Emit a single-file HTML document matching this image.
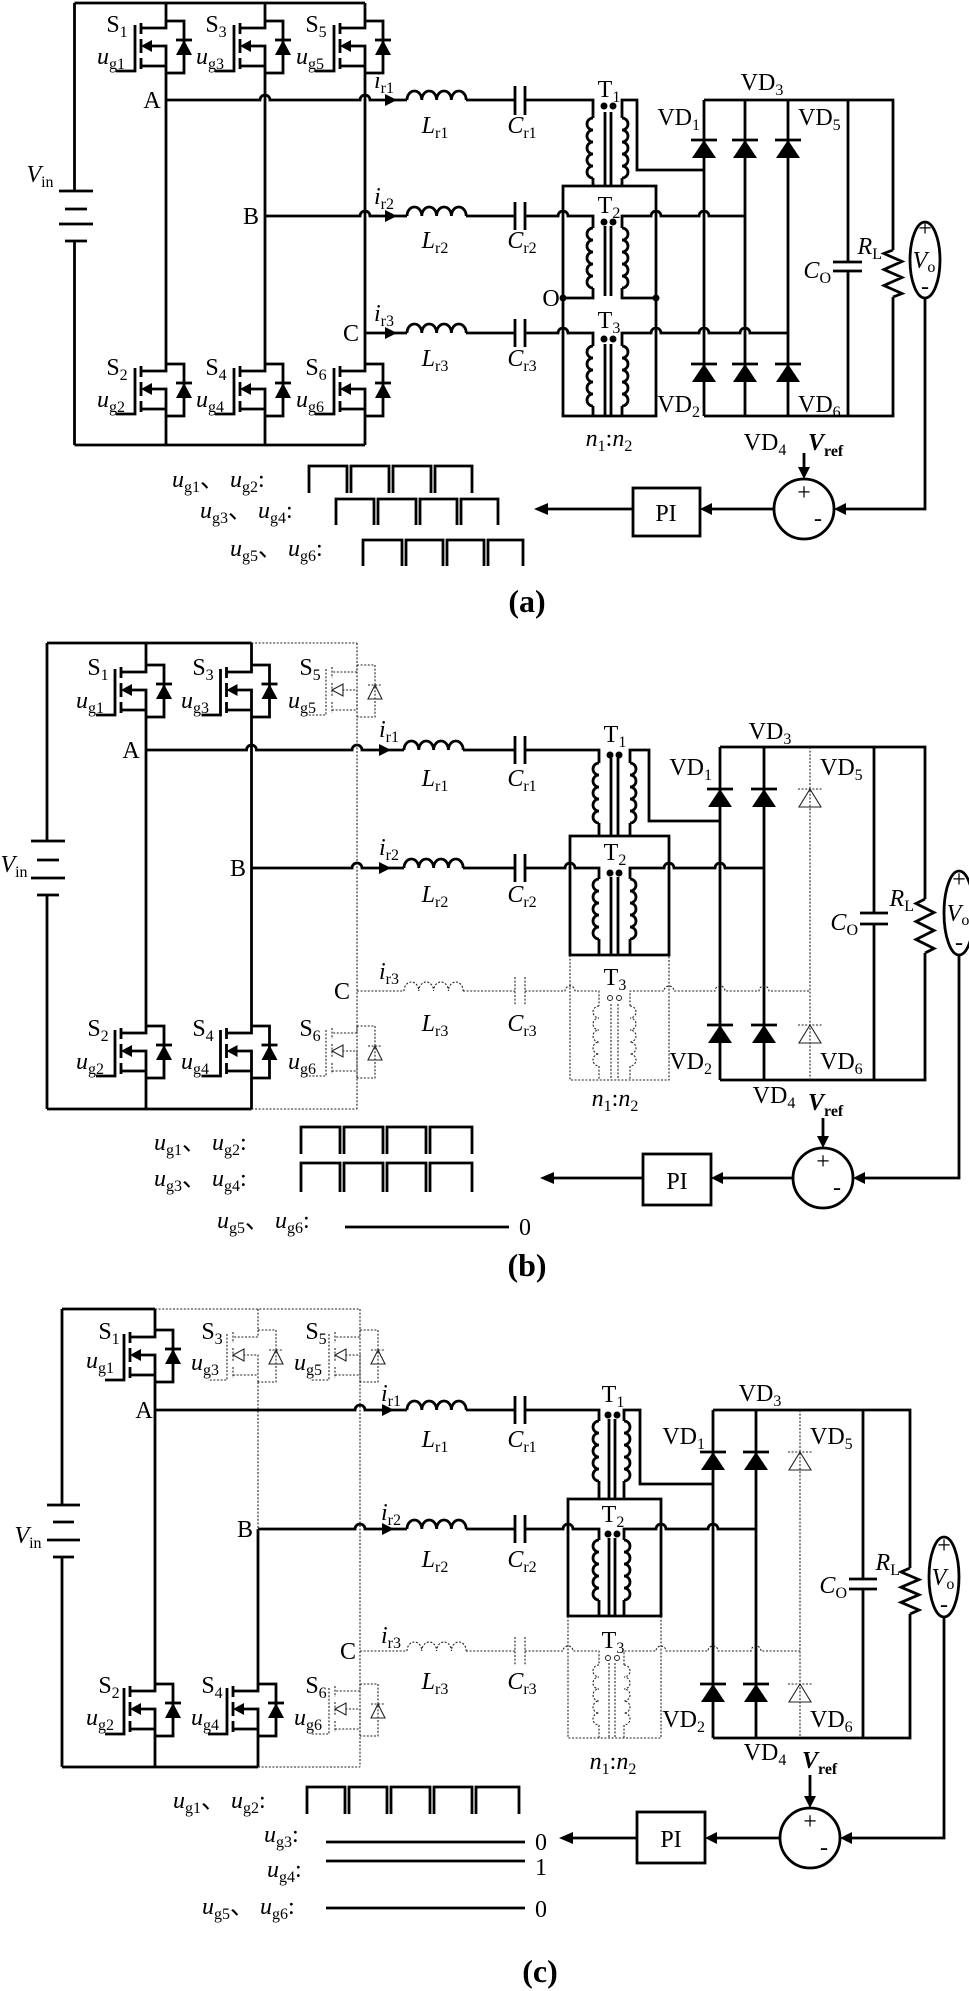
<!DOCTYPE html>
<html><head><meta charset="utf-8"><style>
html,body{margin:0;padding:0;background:#fff}
svg{display:block}
text{font-family:"Liberation Serif",serif;font-size:24px;fill:#000}
.w{stroke:#000;stroke-width:2.8;fill:none}
.d{stroke:#222;stroke-width:1.1;stroke-dasharray:2 1.6;fill:none}
.i{font-style:italic}
.sb{font-size:16px;font-style:normal}
.pl{font-weight:bold;font-size:32px}
</style></head><body>
<svg width="969" height="1991" viewBox="0 0 969 1991" xmlns="http://www.w3.org/2000/svg">
<defs>
<g id="swS">
<path class="w" d="M0,0 V7 H-25 M0,0 H18 V52 H0 M0,52 V25 H-17 M-25,45 H0 M-25,2 V13 M-25,18 V32 M-25,37 V48 M-31,4 V50 H-50"/>
<polygon points="-25,25 -14,19 -14,31" fill="#000"/>
<polygon points="10,34 26,34 18,19" fill="#000"/>
<path class="w" d="M10,19 H26"/>
</g>
<g id="swD">
<path class="d" d="M0,0 V7 H-25 M0,0 H18 V52 H0 M0,52 V25 H-15 M-25,45 H0 M-25,2 V13 M-25,18 V32 M-25,37 V48 M-31,4 V50 H-50"/>
<polygon points="-25,25 -14,19 -14,31" fill="none" stroke="#222" stroke-width="1.1"/>
<polygon points="11,34 25,34 18,20" fill="none" stroke="#222" stroke-width="1.1"/>
<path class="d" d="M11,20 H25"/>
</g>
<g id="dS"><polygon points="-12,9 12,9 0,-9" fill="#000"/><path class="w" d="M-13,-9 H13"/></g>
<g id="dD"><polygon points="-11,9 11,9 0,-9" fill="none" stroke="#222" stroke-width="1.1"/><path class="d" d="M-12,-9 H12"/></g>
<path id="ind" class="w" d="M0,0 a7.4,9 0 0 1 14.8,0 a7.4,9 0 0 1 14.8,0 a7.4,9 0 0 1 14.8,0 a7.4,9 0 0 1 14.8,0"/>
<path id="indD" class="d" d="M0,0 a7.4,9 0 0 1 14.8,0 a7.4,9 0 0 1 14.8,0 a7.4,9 0 0 1 14.8,0 a7.4,9 0 0 1 14.8,0"/>
<path id="cL" class="w" d="M0,0 a6,6 0 0 0 0,12 a6,6 0 0 0 0,12 a6,6 0 0 0 0,12 a6,6 0 0 0 0,12 a6,6 0 0 0 0,12"/>
<path id="cR" class="w" d="M0,0 a6,6 0 0 1 0,12 a6,6 0 0 1 0,12 a6,6 0 0 1 0,12 a6,6 0 0 1 0,12 a6,6 0 0 1 0,12"/>
<path id="cLD" class="d" d="M0,0 a6,6 0 0 0 0,12 a6,6 0 0 0 0,12 a6,6 0 0 0 0,12 a6,6 0 0 0 0,12 a6,6 0 0 0 0,12"/>
<path id="cRD" class="d" d="M0,0 a6,6 0 0 1 0,12 a6,6 0 0 1 0,12 a6,6 0 0 1 0,12 a6,6 0 0 1 0,12 a6,6 0 0 1 0,12"/>
</defs>

<!-- ================= PANEL (a) ================= -->
<path class="w" d="M74.5,3 V191 M74.5,241 V445 M59,191 H93 M65,209 H87 M59,224 H93 M65,241 H87 M74.5,3 H365 M74.5,445 H365
M166,3 V21 M166,73 V364 M166,416 V445 M265,3 V21 M265,73 V364 M265,416 V445 M365,3 V21 M365,73 V364 M365,416 V445"/>
<use href="#swS" x="166" y="21"/><use href="#swS" x="265" y="21"/><use href="#swS" x="365" y="21"/>
<use href="#swS" x="166" y="364"/><use href="#swS" x="265" y="364"/><use href="#swS" x="365" y="364"/>
<text x="117" y="32" text-anchor="middle">S<tspan class="sb" dy="5">1</tspan></text>
<text x="216" y="32" text-anchor="middle">S<tspan class="sb" dy="5">3</tspan></text>
<text x="316" y="32" text-anchor="middle">S<tspan class="sb" dy="5">5</tspan></text>
<text x="111" y="64" text-anchor="middle"><tspan class="i">u</tspan><tspan class="sb" dy="5">g1</tspan></text>
<text x="210" y="64" text-anchor="middle"><tspan class="i">u</tspan><tspan class="sb" dy="5">g3</tspan></text>
<text x="310" y="64" text-anchor="middle"><tspan class="i">u</tspan><tspan class="sb" dy="5">g5</tspan></text>
<text x="117" y="375" text-anchor="middle">S<tspan class="sb" dy="5">2</tspan></text>
<text x="216" y="375" text-anchor="middle">S<tspan class="sb" dy="5">4</tspan></text>
<text x="316" y="375" text-anchor="middle">S<tspan class="sb" dy="5">6</tspan></text>
<text x="111" y="407" text-anchor="middle"><tspan class="i">u</tspan><tspan class="sb" dy="5">g2</tspan></text>
<text x="210" y="407" text-anchor="middle"><tspan class="i">u</tspan><tspan class="sb" dy="5">g4</tspan></text>
<text x="310" y="407" text-anchor="middle"><tspan class="i">u</tspan><tspan class="sb" dy="5">g6</tspan></text>
<text x="40" y="182" text-anchor="middle"><tspan class="i">V</tspan><tspan class="sb" dy="5">in</tspan></text>
<text x="152" y="108" text-anchor="middle">A</text>
<text x="251" y="224" text-anchor="middle">B</text>
<text x="351" y="341" text-anchor="middle">C</text>
<path class="w" d="M166,100 H260 a5,5 0 0 1 10,0 H360 a5,5 0 0 1 10,0 H407 M466,100 H515 M515,86 V115 M525,86 V115 M525,100 H593 V118 M593,178 V186
M622,118 V100 H637 V170 H704 M622,178 V186 M605,112 V186 M611,112 V186
M265,216 H360 a5,5 0 0 1 10,0 H407 M466,216 H515 M515,202 V230 M525,202 V230 M525,216 H558 a5,5 0 0 1 10,0 H593 V228 M593,288 V298 H563
M622,228 V216 H651 a5,5 0 0 1 10,0 H699 a5,5 0 0 1 10,0 H745 M622,288 V298 H656 M605,226 V296 M611,226 V296
M365,333 H407 M466,333 H515 M515,319 V347 M525,319 V347 M525,333 H558 a5,5 0 0 1 10,0 H593 V346 M593,406 V416
M622,346 V333 H651 a5,5 0 0 1 10,0 H699 a5,5 0 0 1 10,0 H740 a5,5 0 0 1 10,0 H788 M622,406 V416 M605,344 V416 M611,344 V416
M563,186 H656 V416 H563 Z
M704,100 V416 M745,100 V416 M788,100 V416 M704,100 H893 V250 M893,297 V416 H704
M893,250 l-9,3.5 18,8 -18,8 18,8 -18,8 18,8 -9,3.5
M848,100 V262 M833,262 H862 M833,271 H862 M848,271 V416"/>
<polygon points="385,94 397,100 385,106"/><polygon points="385,210 397,216 385,222"/><polygon points="385,327 397,333 385,339"/>
<use href="#ind" x="407" y="100"/><use href="#ind" x="407" y="216"/><use href="#ind" x="407" y="333"/>
<use href="#cL" x="593" y="118"/><use href="#cR" x="622" y="118"/>
<use href="#cL" x="593" y="228"/><use href="#cR" x="622" y="228"/>
<use href="#cL" x="593" y="346"/><use href="#cR" x="622" y="346"/>
<circle cx="604" cy="106" r="3.5"/><circle cx="613" cy="106" r="3.5"/>
<circle cx="604" cy="222" r="3.5"/><circle cx="613" cy="222" r="3.5"/>
<circle cx="604" cy="339" r="3.5"/><circle cx="613" cy="339" r="3.5"/>
<circle cx="563" cy="298" r="3.5"/><circle cx="656" cy="298" r="3.5"/>
<use href="#dS" x="704" y="149"/><use href="#dS" x="745" y="149"/><use href="#dS" x="788" y="149"/>
<use href="#dS" x="704" y="373"/><use href="#dS" x="745" y="373"/><use href="#dS" x="788" y="373"/>
<text x="384" y="88" text-anchor="middle"><tspan class="i">i</tspan><tspan class="sb" dy="5">r1</tspan></text>
<text x="384" y="204" text-anchor="middle"><tspan class="i">i</tspan><tspan class="sb" dy="5">r2</tspan></text>
<text x="384" y="321" text-anchor="middle"><tspan class="i">i</tspan><tspan class="sb" dy="5">r3</tspan></text>
<text x="435" y="133" text-anchor="middle"><tspan class="i">L</tspan><tspan class="sb" dy="5">r1</tspan></text>
<text x="435" y="248" text-anchor="middle"><tspan class="i">L</tspan><tspan class="sb" dy="5">r2</tspan></text>
<text x="435" y="366" text-anchor="middle"><tspan class="i">L</tspan><tspan class="sb" dy="5">r3</tspan></text>
<text x="522" y="133" text-anchor="middle"><tspan class="i">C</tspan><tspan class="sb" dy="5">r1</tspan></text>
<text x="522" y="248" text-anchor="middle"><tspan class="i">C</tspan><tspan class="sb" dy="5">r2</tspan></text>
<text x="522" y="366" text-anchor="middle"><tspan class="i">C</tspan><tspan class="sb" dy="5">r3</tspan></text>
<text x="609" y="97" text-anchor="middle">T<tspan class="sb" dy="5">1</tspan></text>
<text x="609" y="213" text-anchor="middle">T<tspan class="sb" dy="5">2</tspan></text>
<text x="609" y="328" text-anchor="middle">T<tspan class="sb" dy="5">3</tspan></text>
<text x="551" y="306" text-anchor="middle">O</text>
<text x="609" y="446" text-anchor="middle"><tspan class="i">n</tspan><tspan class="sb" dy="5">1</tspan><tspan dy="-5">:</tspan><tspan class="i">n</tspan><tspan class="sb" dy="5">2</tspan></text>
<text x="762" y="90" text-anchor="middle">VD<tspan class="sb" dy="5">3</tspan></text>
<text x="700" y="125" text-anchor="end">VD<tspan class="sb" dy="5">1</tspan></text>
<text x="798" y="125">VD<tspan class="sb" dy="5">5</tspan></text>
<text x="700" y="412" text-anchor="end">VD<tspan class="sb" dy="5">2</tspan></text>
<text x="798" y="412">VD<tspan class="sb" dy="5">6</tspan></text>
<text x="765" y="450" text-anchor="middle">VD<tspan class="sb" dy="5">4</tspan></text>
<text x="808" y="450" font-weight="bold"><tspan class="i">V</tspan><tspan class="sb" dy="6" font-weight="bold">ref</tspan></text>
<text x="831" y="278" text-anchor="end"><tspan class="i">C</tspan><tspan class="sb" dy="5">O</tspan></text>
<text x="882" y="254" text-anchor="end"><tspan class="i">R</tspan><tspan class="sb" dy="5">L</tspan></text>
<ellipse class="w" cx="925" cy="260" rx="15" ry="38"/>
<text x="925" y="236" text-anchor="middle" font-size="15">+</text>
<text x="924" y="268" text-anchor="middle"><tspan class="i">V</tspan><tspan class="sb" dy="4">o</tspan></text>
<text x="925" y="294" text-anchor="middle" font-size="15">-</text>
<path class="w" d="M925,298 V509 H846 M804,453 V467 M774,509 H712 M633,509 H548"/>
<polygon points="846,503 834,509 846,515"/><polygon points="798,467 804,479 810,467"/>
<polygon points="712,503 700,509 712,515"/><polygon points="548,503 534,509 548,515"/>
<circle class="w" cx="804" cy="509" r="30"/>
<text x="804" y="500" text-anchor="middle" font-size="15">+</text>
<text x="818" y="526" text-anchor="middle" font-size="16">-</text>
<rect class="w" x="633" y="488" width="67" height="48"/>
<text x="666" y="521" text-anchor="middle" font-size="26">PI</text>
<path class="w" d="M309,493 V466 H347 V493 M351,493 V466 H389 V493 M393,493 V466 H431 V493 M435,493 V466 H472 V493
M336,525 V499 H374 V525 M378,525 V499 H416 V525 M420,525 V499 H457 V525 M461,525 V499 H498 V525
M363,566 V540 H402 V566 M406,566 V540 H443 V566 M447,566 V540 H484 V566 M488,566 V540 H523 V566"/>
<text x="172" y="487"><tspan class="i">u</tspan><tspan class="sb" dy="5">g1</tspan><tspan dy="-5">、 </tspan><tspan class="i">u</tspan><tspan class="sb" dy="5">g2</tspan><tspan dy="-5">:</tspan></text>
<text x="200" y="518"><tspan class="i">u</tspan><tspan class="sb" dy="5">g3</tspan><tspan dy="-5">、 </tspan><tspan class="i">u</tspan><tspan class="sb" dy="5">g4</tspan><tspan dy="-5">:</tspan></text>
<text x="230" y="556"><tspan class="i">u</tspan><tspan class="sb" dy="5">g5</tspan><tspan dy="-5">、 </tspan><tspan class="i">u</tspan><tspan class="sb" dy="5">g6</tspan><tspan dy="-5">:</tspan></text>
<text x="527" y="612" text-anchor="middle" class="pl">(a)</text>

<!-- ================= PANEL (b) ================= -->
<path class="w" d="M47,643 V841 M47,895 V1109 M31,841 H65 M37,860 H59 M31,878 H65 M37,895 H59 M47,643 H251.5 M47,1109 H251.5
M146,643 V665 M146,717 V1026 M146,1078 V1109 M251.5,643 V665 M251.5,717 V1026 M251.5,1078 V1109"/>
<path class="d" d="M251.5,643 H357 M251.5,1109 H357 M357,643 V1109"/>
<use href="#swS" x="146" y="665"/><use href="#swS" x="251.5" y="665"/><use href="#swD" x="357" y="665"/>
<use href="#swS" x="146" y="1026"/><use href="#swS" x="251.5" y="1026"/><use href="#swD" x="357" y="1026"/>
<text x="98" y="675" text-anchor="middle">S<tspan class="sb" dy="5">1</tspan></text>
<text x="203" y="675" text-anchor="middle">S<tspan class="sb" dy="5">3</tspan></text>
<text x="310" y="675" text-anchor="middle">S<tspan class="sb" dy="5">5</tspan></text>
<text x="90" y="708" text-anchor="middle"><tspan class="i">u</tspan><tspan class="sb" dy="5">g1</tspan></text>
<text x="195" y="708" text-anchor="middle"><tspan class="i">u</tspan><tspan class="sb" dy="5">g3</tspan></text>
<text x="302" y="708" text-anchor="middle"><tspan class="i">u</tspan><tspan class="sb" dy="5">g5</tspan></text>
<text x="98" y="1036" text-anchor="middle">S<tspan class="sb" dy="5">2</tspan></text>
<text x="203" y="1036" text-anchor="middle">S<tspan class="sb" dy="5">4</tspan></text>
<text x="310" y="1036" text-anchor="middle">S<tspan class="sb" dy="5">6</tspan></text>
<text x="90" y="1069" text-anchor="middle"><tspan class="i">u</tspan><tspan class="sb" dy="5">g2</tspan></text>
<text x="195" y="1069" text-anchor="middle"><tspan class="i">u</tspan><tspan class="sb" dy="5">g4</tspan></text>
<text x="302" y="1069" text-anchor="middle"><tspan class="i">u</tspan><tspan class="sb" dy="5">g6</tspan></text>
<text x="14" y="872" text-anchor="middle"><tspan class="i">V</tspan><tspan class="sb" dy="5">in</tspan></text>
<text x="131" y="758" text-anchor="middle">A</text>
<text x="238" y="876" text-anchor="middle">B</text>
<text x="342" y="999" text-anchor="middle">C</text>
<path class="w" d="M146,750 H246.5 a5,5 0 0 1 10,0 H352 a5,5 0 0 1 10,0 H404 M463,750 H515 M515,736 V764 M525,736 V764 M525,750 H599 V763 M599,823 V836
M630,763 V750 H649 V821 H720 M630,823 V836 M611,758 V836 M618,758 V836
M251.5,868 H352 a5,5 0 0 1 10,0 H404 M463,868 H515 M515,854 V882 M525,854 V882 M525,868 H565 a5,5 0 0 1 10,0 H599 V879 M599,939 V955
M630,879 V868 H664 a5,5 0 0 1 10,0 H715 a5,5 0 0 1 10,0 H764 M630,939 V955 M611,877 V955 M618,877 V955
M570,836 H669 V955 H570 Z
M720,747 V1080 M764,747 V1080 M720,747 H925 V899 M925,953 V1080 H720
M925,899 l-9,4.5 18,9 -18,9 18,9 -18,9 18,9 -9,4.5
M874,747 V913 M860,913 H888 M860,924 H888 M874,924 V1080"/>
<path class="d" d="M357,991 H404 M463,991 H515 M515,977 V1005 M525,977 V1005 M525,991 H565 a5,5 0 0 1 10,0 H599 V1006 M599,1066 V1080
M630,1006 V991 H664 a5,5 0 0 1 10,0 H715 a5,5 0 0 1 10,0 H759 a5,5 0 0 1 10,0 H810 M630,1066 V1080 M611,1004 V1080 M618,1004 V1080
M570,955 V1080 H669 V955 M810,747 V1080"/>
<polygon points="379,744 391,750 379,756"/><polygon points="379,862 391,868 379,874"/>
<use href="#ind" x="404" y="750"/><use href="#ind" x="404" y="868"/><use href="#indD" x="404" y="991"/>
<use href="#cL" x="599" y="763"/><use href="#cR" x="630" y="763"/>
<use href="#cL" x="599" y="879"/><use href="#cR" x="630" y="879"/>
<use href="#cLD" x="599" y="1006"/><use href="#cRD" x="630" y="1006"/>
<circle cx="610" cy="755" r="3.5"/><circle cx="619" cy="755" r="3.5"/>
<circle cx="610" cy="873" r="3.5"/><circle cx="619" cy="873" r="3.5"/>
<circle cx="610" cy="998" r="2.5" fill="none" stroke="#222"/><circle cx="619" cy="998" r="2.5" fill="none" stroke="#222"/>
<use href="#dS" x="720" y="798"/><use href="#dS" x="764" y="798"/><use href="#dD" x="810" y="798"/>
<use href="#dS" x="720" y="1034"/><use href="#dS" x="764" y="1034"/><use href="#dD" x="810" y="1034"/>
<text x="389" y="737" text-anchor="middle"><tspan class="i">i</tspan><tspan class="sb" dy="5">r1</tspan></text>
<text x="389" y="855" text-anchor="middle"><tspan class="i">i</tspan><tspan class="sb" dy="5">r2</tspan></text>
<text x="389" y="979" text-anchor="middle"><tspan class="i">i</tspan><tspan class="sb" dy="5">r3</tspan></text>
<text x="435" y="786" text-anchor="middle"><tspan class="i">L</tspan><tspan class="sb" dy="5">r1</tspan></text>
<text x="435" y="902" text-anchor="middle"><tspan class="i">L</tspan><tspan class="sb" dy="5">r2</tspan></text>
<text x="435" y="1031" text-anchor="middle"><tspan class="i">L</tspan><tspan class="sb" dy="5">r3</tspan></text>
<text x="522" y="786" text-anchor="middle"><tspan class="i">C</tspan><tspan class="sb" dy="5">r1</tspan></text>
<text x="522" y="902" text-anchor="middle"><tspan class="i">C</tspan><tspan class="sb" dy="5">r2</tspan></text>
<text x="522" y="1031" text-anchor="middle"><tspan class="i">C</tspan><tspan class="sb" dy="5">r3</tspan></text>
<text x="615" y="742" text-anchor="middle">T<tspan class="sb" dy="5">1</tspan></text>
<text x="615" y="860" text-anchor="middle">T<tspan class="sb" dy="5">2</tspan></text>
<text x="615" y="985" text-anchor="middle">T<tspan class="sb" dy="5">3</tspan></text>
<text x="615" y="1106" text-anchor="middle"><tspan class="i">n</tspan><tspan class="sb" dy="5">1</tspan><tspan dy="-5">:</tspan><tspan class="i">n</tspan><tspan class="sb" dy="5">2</tspan></text>
<text x="770" y="739" text-anchor="middle">VD<tspan class="sb" dy="5">3</tspan></text>
<text x="712" y="775" text-anchor="end">VD<tspan class="sb" dy="5">1</tspan></text>
<text x="820" y="775">VD<tspan class="sb" dy="5">5</tspan></text>
<text x="712" y="1069" text-anchor="end">VD<tspan class="sb" dy="5">2</tspan></text>
<text x="820" y="1069">VD<tspan class="sb" dy="5">6</tspan></text>
<text x="774" y="1103" text-anchor="middle">VD<tspan class="sb" dy="5">4</tspan></text>
<text x="808" y="1110" font-weight="bold"><tspan class="i">V</tspan><tspan class="sb" dy="6" font-weight="bold">ref</tspan></text>
<text x="858" y="930" text-anchor="end"><tspan class="i">C</tspan><tspan class="sb" dy="5">O</tspan></text>
<text x="914" y="906" text-anchor="end"><tspan class="i">R</tspan><tspan class="sb" dy="5">L</tspan></text>
<ellipse class="w" cx="959" cy="913" rx="15" ry="42"/>
<text x="959" y="887" text-anchor="middle" font-size="15">+</text>
<text x="958" y="921" text-anchor="middle"><tspan class="i">V</tspan><tspan class="sb" dy="4">o</tspan></text>
<text x="959" y="950" text-anchor="middle" font-size="15">-</text>
<path class="w" d="M959,955 V1178 H865 M823,1118 V1136 M793,1178 H723 M643,1178 H554"/>
<polygon points="865,1172 853,1178 865,1184"/><polygon points="817,1136 823,1148 829,1136"/>
<polygon points="723,1172 711,1178 723,1184"/><polygon points="554,1172 540,1178 554,1184"/>
<circle class="w" cx="823" cy="1178" r="30"/>
<text x="823" y="1169" text-anchor="middle" font-size="15">+</text>
<text x="837" y="1195" text-anchor="middle" font-size="16">-</text>
<rect class="w" x="643" y="1154" width="68" height="51"/>
<text x="677" y="1189" text-anchor="middle" font-size="26">PI</text>
<path class="w" d="M301,1154 V1127 H340 V1154 M344,1154 V1127 H383 V1154 M387,1154 V1127 H426 V1154 M430,1154 V1127 H472 V1154
M301,1192 V1163 H340 V1192 M344,1192 V1163 H383 V1192 M387,1192 V1163 H426 V1192 M430,1192 V1163 H472 V1192 M345,1227 H509"/>
<text x="154" y="1150"><tspan class="i">u</tspan><tspan class="sb" dy="5">g1</tspan><tspan dy="-5">、 </tspan><tspan class="i">u</tspan><tspan class="sb" dy="5">g2</tspan><tspan dy="-5">:</tspan></text>
<text x="154" y="1186"><tspan class="i">u</tspan><tspan class="sb" dy="5">g3</tspan><tspan dy="-5">、 </tspan><tspan class="i">u</tspan><tspan class="sb" dy="5">g4</tspan><tspan dy="-5">:</tspan></text>
<text x="217" y="1228"><tspan class="i">u</tspan><tspan class="sb" dy="5">g5</tspan><tspan dy="-5">、 </tspan><tspan class="i">u</tspan><tspan class="sb" dy="5">g6</tspan><tspan dy="-5">:</tspan></text>
<text x="525" y="1235" text-anchor="middle">0</text>
<text x="527" y="1276" text-anchor="middle" class="pl">(b)</text>

<!-- ================= PANEL (c) ================= -->
<path class="w" d="M62,1309 V1505 M62,1557 V1767 M47,1505 H80 M53,1522 H74 M47,1540 H80 M53,1557 H74 M62,1309 H155 M62,1767 H258
M155,1309 V1330 M155,1382 V1684 M155,1736 V1767 M258,1529 V1684 M258,1736 V1767"/>
<path class="d" d="M155,1309 H360 M258,1767 H360 M360,1309 V1767 M258,1309 V1330 M258,1382 V1529"/>
<use href="#swS" x="155" y="1330"/><use href="#swD" x="258" y="1330"/><use href="#swD" x="360" y="1330"/>
<use href="#swS" x="155" y="1684"/><use href="#swS" x="258" y="1684"/><use href="#swD" x="360" y="1684"/>
<text x="109" y="1339" text-anchor="middle">S<tspan class="sb" dy="5">1</tspan></text>
<text x="212" y="1339" text-anchor="middle">S<tspan class="sb" dy="5">3</tspan></text>
<text x="316" y="1339" text-anchor="middle">S<tspan class="sb" dy="5">5</tspan></text>
<text x="100" y="1368" text-anchor="middle"><tspan class="i">u</tspan><tspan class="sb" dy="5">g1</tspan></text>
<text x="205" y="1370" text-anchor="middle"><tspan class="i">u</tspan><tspan class="sb" dy="5">g3</tspan></text>
<text x="308" y="1370" text-anchor="middle"><tspan class="i">u</tspan><tspan class="sb" dy="5">g5</tspan></text>
<text x="109" y="1693" text-anchor="middle">S<tspan class="sb" dy="5">2</tspan></text>
<text x="212" y="1693" text-anchor="middle">S<tspan class="sb" dy="5">4</tspan></text>
<text x="316" y="1693" text-anchor="middle">S<tspan class="sb" dy="5">6</tspan></text>
<text x="100" y="1725" text-anchor="middle"><tspan class="i">u</tspan><tspan class="sb" dy="5">g2</tspan></text>
<text x="205" y="1725" text-anchor="middle"><tspan class="i">u</tspan><tspan class="sb" dy="5">g4</tspan></text>
<text x="308" y="1725" text-anchor="middle"><tspan class="i">u</tspan><tspan class="sb" dy="5">g6</tspan></text>
<text x="28" y="1543" text-anchor="middle"><tspan class="i">V</tspan><tspan class="sb" dy="5">in</tspan></text>
<text x="144" y="1418" text-anchor="middle">A</text>
<text x="245" y="1537" text-anchor="middle">B</text>
<text x="348" y="1659" text-anchor="middle">C</text>
<path class="w" d="M155,1410 H355 a5,5 0 0 1 10,0 H407 M466,1410 H515 M515,1396 V1424 M525,1396 V1424 M525,1410 H599 V1421 M599,1481 V1499
M624,1421 V1410 H640 V1484 H713 M624,1481 V1499 M609,1419 V1499 M615,1419 V1499
M258,1529 H355 a5,5 0 0 1 10,0 H407 M466,1529 H515 M515,1515 V1543 M525,1515 V1543 M525,1529 H563 a5,5 0 0 1 10,0 H599 V1540 M599,1600 V1616
M624,1540 V1529 H656 a5,5 0 0 1 10,0 H708 a5,5 0 0 1 10,0 H756 M624,1600 V1616 M609,1538 V1616 M615,1538 V1616
M568,1499 H661 V1616 H568 Z
M713,1410 V1738 M756,1410 V1738 M713,1410 H910 V1568 M910,1614 V1738 H713
M910,1568 l-9,4 18,7.6 -18,7.6 18,7.6 -18,7.6 18,7.6 -9,4
M863,1410 V1579 M849,1579 H877 M849,1589 H877 M863,1589 V1738"/>
<path class="d" d="M360,1651 H407 M466,1651 H515 M515,1637 V1665 M525,1637 V1665 M525,1651 H563 a5,5 0 0 1 10,0 H599 V1665 M599,1725 V1738
M624,1665 V1651 H656 a5,5 0 0 1 10,0 H708 a5,5 0 0 1 10,0 H751 a5,5 0 0 1 10,0 H800 M624,1725 V1738 M609,1663 V1738 M615,1663 V1738
M568,1616 V1738 H661 V1616 M800,1410 V1738"/>
<polygon points="382,1404 394,1410 382,1416"/><polygon points="382,1523 394,1529 382,1535"/>
<use href="#ind" x="407" y="1410"/><use href="#ind" x="407" y="1529"/><use href="#indD" x="407" y="1651"/>
<use href="#cL" x="599" y="1421"/><use href="#cR" x="624" y="1421"/>
<use href="#cL" x="599" y="1540"/><use href="#cR" x="624" y="1540"/>
<use href="#cLD" x="599" y="1665"/><use href="#cRD" x="624" y="1665"/>
<circle cx="608" cy="1415" r="3.5"/><circle cx="617" cy="1415" r="3.5"/>
<circle cx="608" cy="1534" r="3.5"/><circle cx="617" cy="1534" r="3.5"/>
<circle cx="608" cy="1658" r="2.5" fill="none" stroke="#222"/><circle cx="617" cy="1658" r="2.5" fill="none" stroke="#222"/>
<use href="#dS" x="713" y="1461"/><use href="#dS" x="756" y="1461"/><use href="#dD" x="800" y="1461"/>
<use href="#dS" x="713" y="1693"/><use href="#dS" x="756" y="1693"/><use href="#dD" x="800" y="1693"/>
<text x="391" y="1401" text-anchor="middle"><tspan class="i">i</tspan><tspan class="sb" dy="5">r1</tspan></text>
<text x="391" y="1520" text-anchor="middle"><tspan class="i">i</tspan><tspan class="sb" dy="5">r2</tspan></text>
<text x="391" y="1643" text-anchor="middle"><tspan class="i">i</tspan><tspan class="sb" dy="5">r3</tspan></text>
<text x="435" y="1447" text-anchor="middle"><tspan class="i">L</tspan><tspan class="sb" dy="5">r1</tspan></text>
<text x="435" y="1567" text-anchor="middle"><tspan class="i">L</tspan><tspan class="sb" dy="5">r2</tspan></text>
<text x="435" y="1689" text-anchor="middle"><tspan class="i">L</tspan><tspan class="sb" dy="5">r3</tspan></text>
<text x="522" y="1447" text-anchor="middle"><tspan class="i">C</tspan><tspan class="sb" dy="5">r1</tspan></text>
<text x="522" y="1567" text-anchor="middle"><tspan class="i">C</tspan><tspan class="sb" dy="5">r2</tspan></text>
<text x="522" y="1689" text-anchor="middle"><tspan class="i">C</tspan><tspan class="sb" dy="5">r3</tspan></text>
<text x="613" y="1402" text-anchor="middle">T<tspan class="sb" dy="5">1</tspan></text>
<text x="613" y="1522" text-anchor="middle">T<tspan class="sb" dy="5">2</tspan></text>
<text x="613" y="1648" text-anchor="middle">T<tspan class="sb" dy="5">3</tspan></text>
<text x="613" y="1769" text-anchor="middle"><tspan class="i">n</tspan><tspan class="sb" dy="5">1</tspan><tspan dy="-5">:</tspan><tspan class="i">n</tspan><tspan class="sb" dy="5">2</tspan></text>
<text x="760" y="1401" text-anchor="middle">VD<tspan class="sb" dy="5">3</tspan></text>
<text x="705" y="1444" text-anchor="end">VD<tspan class="sb" dy="5">1</tspan></text>
<text x="810" y="1444">VD<tspan class="sb" dy="5">5</tspan></text>
<text x="705" y="1727" text-anchor="end">VD<tspan class="sb" dy="5">2</tspan></text>
<text x="810" y="1727">VD<tspan class="sb" dy="5">6</tspan></text>
<text x="765" y="1760" text-anchor="middle">VD<tspan class="sb" dy="5">4</tspan></text>
<text x="802" y="1768" font-weight="bold"><tspan class="i">V</tspan><tspan class="sb" dy="6" font-weight="bold">ref</tspan></text>
<text x="847" y="1593" text-anchor="end"><tspan class="i">C</tspan><tspan class="sb" dy="5">O</tspan></text>
<text x="900" y="1570" text-anchor="end"><tspan class="i">R</tspan><tspan class="sb" dy="5">L</tspan></text>
<ellipse class="w" cx="944" cy="1577" rx="15" ry="40"/>
<text x="944" y="1553" text-anchor="middle" font-size="15">+</text>
<text x="943" y="1585" text-anchor="middle"><tspan class="i">V</tspan><tspan class="sb" dy="4">o</tspan></text>
<text x="944" y="1612" text-anchor="middle" font-size="15">-</text>
<path class="w" d="M944,1617 V1838 H852 M810,1775 V1796 M780,1838 H717 M637,1838 H573"/>
<polygon points="852,1832 840,1838 852,1844"/><polygon points="804,1796 810,1808 816,1796"/>
<polygon points="717,1832 705,1838 717,1844"/><polygon points="573,1832 559,1838 573,1844"/>
<circle class="w" cx="810" cy="1838" r="30"/>
<text x="810" y="1829" text-anchor="middle" font-size="15">+</text>
<text x="824" y="1855" text-anchor="middle" font-size="16">-</text>
<rect class="w" x="637" y="1812" width="68" height="51"/>
<text x="671" y="1847" text-anchor="middle" font-size="26">PI</text>
<path class="w" d="M307,1814 V1787 H345 V1814 M349,1814 V1787 H387 V1814 M391,1814 V1787 H430 V1814 M434,1814 V1787 H472 V1814 M476,1814 V1787 H519 V1814
M326,1842 H525 M326,1861 H525 M326,1908 H525"/>
<text x="173" y="1808"><tspan class="i">u</tspan><tspan class="sb" dy="5">g1</tspan><tspan dy="-5">、 </tspan><tspan class="i">u</tspan><tspan class="sb" dy="5">g2</tspan><tspan dy="-5">:</tspan></text>
<text x="264" y="1842"><tspan class="i">u</tspan><tspan class="sb" dy="5">g3</tspan><tspan dy="-5">:</tspan></text>
<text x="267" y="1877"><tspan class="i">u</tspan><tspan class="sb" dy="5">g4</tspan><tspan dy="-5">:</tspan></text>
<text x="202" y="1914"><tspan class="i">u</tspan><tspan class="sb" dy="5">g5</tspan><tspan dy="-5">、 </tspan><tspan class="i">u</tspan><tspan class="sb" dy="5">g6</tspan><tspan dy="-5">:</tspan></text>
<text x="541" y="1850" text-anchor="middle">0</text>
<text x="541" y="1875" text-anchor="middle">1</text>
<text x="541" y="1917" text-anchor="middle">0</text>
<text x="540" y="1982" text-anchor="middle" class="pl">(c)</text>
</svg>
</body></html>
